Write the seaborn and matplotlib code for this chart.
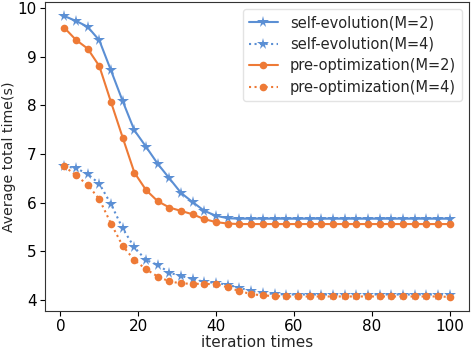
import numpy as np
import pandas as pd
import matplotlib
matplotlib.use("Agg")
import matplotlib.pyplot as plt
import seaborn as sns

iterations = list(range(1, 101, 3))

self_evo_m2 = [9.84, 9.74, 9.62, 9.34, 8.72, 8.09, 7.49, 7.15, 6.80, 6.50, 6.20, 6.01, 5.83, 5.73, 5.68,
               5.67, 5.67, 5.67, 5.67, 5.67, 5.67, 5.67, 5.67, 5.67, 5.67, 5.67, 5.67, 5.67, 5.67, 5.67,
               5.67, 5.67, 5.67, 5.67]
self_evo_m4 = [6.75, 6.71, 6.59, 6.39, 5.97, 5.47, 5.08, 4.82, 4.72, 4.56, 4.49, 4.43, 4.37, 4.35, 4.31,
               4.25, 4.18, 4.14, 4.12, 4.11, 4.11, 4.11, 4.11, 4.11, 4.11, 4.11, 4.11, 4.11, 4.11, 4.11,
               4.11, 4.11, 4.11, 4.11]
pre_opt_m2 = [9.60, 9.35, 9.17, 8.81, 8.07, 7.34, 6.62, 6.26, 6.03, 5.90, 5.83, 5.76, 5.66, 5.60, 5.57,
              5.56, 5.56, 5.56, 5.56, 5.56, 5.56, 5.56, 5.56, 5.56, 5.56, 5.56, 5.56, 5.56, 5.56, 5.56,
              5.56, 5.56, 5.56, 5.56]
pre_opt_m4 = [6.75, 6.56, 6.37, 6.07, 5.57, 5.11, 4.82, 4.63, 4.48, 4.38, 4.34, 4.33, 4.33, 4.32, 4.26,
              4.18, 4.12, 4.09, 4.08, 4.07, 4.07, 4.07, 4.07, 4.07, 4.07, 4.07, 4.07, 4.07, 4.07, 4.07,
              4.07, 4.07, 4.07, 4.06]

series_names = ["self-evolution(M=2)", "self-evolution(M=4)",
                "pre-optimization(M=2)", "pre-optimization(M=4)"]
series_values = [self_evo_m2, self_evo_m4, pre_opt_m2, pre_opt_m4]

BLUE = "#5b8fd4"
ORANGE = "#ee7a36"
styles = [
    dict(color=BLUE, linestyle="-", marker="*", markersize=8.5),
    dict(color=BLUE, linestyle=":", marker="*", markersize=8.5),
    dict(color=ORANGE, linestyle="-", marker="o", markersize=5.5),
    dict(color=ORANGE, linestyle=":", marker="o", markersize=5.5),
]

sns.set_style("white")
plt.rcParams['font.family'] = ['DejaVu Sans']

fig = plt.figure(figsize=(4.74, 3.51), dpi=100)
ax = fig.add_axes([45 / 474, 40 / 351, 424 / 474, 309 / 351])

for name, vals, st in zip(series_names, series_values, styles):
    df = pd.DataFrame({"iter": iterations, "val": vals})
    sns.lineplot(data=df, x="iter", y="val", ax=ax, label=name,
                 color=st["color"], linestyle=st["linestyle"], marker=st["marker"],
                 markersize=st["markersize"], markeredgewidth=0, linewidth=1.5)

ax.set_xlabel("iteration times", fontsize=11, labelpad=0.5)
ax.set_ylabel("Average total time(s)", fontsize=10.2, labelpad=1)
ax.set_xticks([0, 20, 40, 60, 80, 100])
ax.set_yticks([4, 5, 6, 7, 8, 9, 10])
ax.tick_params(axis="both", labelsize=11, direction="out", length=3.5, width=0.8,
               left=True, bottom=True, colors="black", pad=2.5)
for sp in ax.spines.values():
    sp.set_color("#333333")
    sp.set_linewidth(0.8)

leg = ax.legend(loc="upper right", fontsize=10.5, frameon=True, fancybox=True,
                borderpad=0.4, labelspacing=0.45, handlelength=2.0)
leg.get_frame().set_edgecolor("#dddddd")

fig.savefig("out.png", dpi=100)
